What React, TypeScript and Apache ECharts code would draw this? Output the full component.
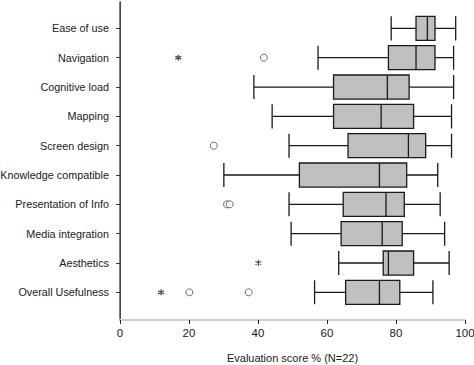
import React, { useEffect, useRef } from "react";
import * as echarts from "echarts";

const categories = [
  "Ease of use",
  "Navigation",
  "Cognitive load",
  "Mapping",
  "Screen design",
  "Knowledge compatible",
  "Presentation of Info",
  "Media integration",
  "Aesthetics",
  "Overall Usefulness",
];

// [low whisker, Q1, median, Q3, high whisker]
const boxValues = [
  [78.6, 85.8, 89.1, 91.3, 97.3],
  [57.4, 77.8, 85.8, 91.3, 96.7],
  [38.8, 61.9, 77.5, 83.8, 96.7],
  [44.1, 61.9, 75.7, 85.1, 96.1],
  [49.0, 66.1, 83.6, 88.6, 96.1],
  [30.1, 52.0, 75.2, 83.1, 92.1],
  [49.0, 64.7, 77.1, 82.4, 92.8],
  [49.6, 64.1, 76.0, 81.8, 94.1],
  [63.4, 76.3, 77.8, 85.1, 95.4],
  [56.4, 65.4, 75.2, 81.1, 90.7],
];

// outliers (circles): [value, category]
const circleOutliers: [number, string][] = [
  [41.7, "Navigation"],
  [27.2, "Screen design"],
  [31.0, "Presentation of Info"],
  [31.8, "Presentation of Info"],
  [20.1, "Overall Usefulness"],
  [37.3, "Overall Usefulness"],
];

// extreme values (asterisks): [value, category]
const starOutliers: [number, string][] = [
  [16.9, "Navigation"],
  [40.1, "Aesthetics"],
  [11.9, "Overall Usefulness"],
];

const xTicks = { min: 0, max: 100, interval: 20 };
const xTitle = "Evaluation score % (N=22)";

const FONT = "'Liberation Sans', Arial, sans-serif";
const ASTERISK =
  "path://M5,0L5,10M0.7,2.5L9.3,7.5M0.7,7.5L9.3,2.5";

export default function App() {
  const ref = useRef<HTMLDivElement>(null);
  useEffect(() => {
    document.body.style.margin = "0";
    if (!ref.current) return;
    const chart = echarts.init(ref.current, null, { renderer: "svg" });
    const textStyle = { fontFamily: FONT, fontSize: 11, color: "#1a1a1a" };
    chart.setOption({
      animation: false,
      textStyle: { fontFamily: FONT },
      grid: [
        { left: 120, right: 9, top: 13.7, height: 293.3, outerBoundsMode: "none", containLabel: false },
        { left: 120, right: 9, top: 2, bottom: 45, outerBoundsMode: "none", containLabel: false },
      ],
      xAxis: [
        {
          gridIndex: 0,
          type: "value",
          min: xTicks.min,
          max: xTicks.max,
          interval: xTicks.interval,
          axisLine: { show: false },
          axisTick: { show: false },
          axisLabel: { show: false },
          splitLine: { show: false },
        },
        {
          gridIndex: 1,
          type: "value",
          position: "bottom",
          min: xTicks.min,
          max: xTicks.max,
          interval: xTicks.interval,
          axisLine: { show: true, lineStyle: { color: "#222", width: 1 } },
          axisTick: { show: true, length: 4, lineStyle: { color: "#222" } },
          axisLabel: { ...textStyle, fontSize: 11.5, margin: 7 },
          splitLine: { show: false },
          name: xTitle,
          nameLocation: "middle",
          nameGap: 32,
          nameTextStyle: { ...textStyle },
        },
        {
          gridIndex: 1,
          type: "value",
          position: "top",
          min: xTicks.min,
          max: xTicks.max,
          axisLine: { show: true, lineStyle: { color: "#cfcfcf", width: 2 } },
          axisTick: { show: false },
          axisLabel: { show: false },
          splitLine: { show: false },
        },
      ],
      yAxis: [
        {
          gridIndex: 0,
          type: "category",
          data: categories,
          inverse: true,
          axisLine: { show: false },
          axisTick: {
            show: true,
            alignWithLabel: true,
            length: 4,
            lineStyle: { color: "#333" },
          },
          axisLabel: { ...textStyle, fontSize: 10.8, margin: 11 },
          splitLine: { show: false },
        },
        {
          gridIndex: 1,
          type: "value",
          position: "left",
          min: 0,
          max: 1,
          axisLine: { show: true, lineStyle: { color: "#222", width: 1 } },
          axisTick: { show: false },
          axisLabel: { show: false },
          splitLine: { show: false },
        },
        {
          gridIndex: 1,
          type: "value",
          position: "right",
          min: 0,
          max: 1,
          axisLine: { show: true, lineStyle: { color: "#555", width: 1.5 } },
          axisTick: { show: false },
          axisLabel: { show: false },
          splitLine: { show: false },
        },
      ],
      series: [
        {
          type: "boxplot",
          xAxisIndex: 0,
          yAxisIndex: 0,
          data: boxValues,
          boxWidth: ["82%", "82%"],
          itemStyle: {
            color: "#c0c0c0",
            borderColor: "#1a1a1a",
            borderWidth: 1.3,
          },
          emphasis: { disabled: true },
        },
        {
          type: "scatter",
          xAxisIndex: 0,
          yAxisIndex: 0,
          data: circleOutliers,
          symbol: "circle",
          symbolSize: 7,
          itemStyle: { color: "#fff", borderColor: "#333", borderWidth: 0.9 },
          emphasis: { disabled: true },
        },
        {
          type: "scatter",
          xAxisIndex: 0,
          yAxisIndex: 0,
          data: starOutliers,
          symbol: ASTERISK,
          symbolSize: 6,
          itemStyle: {
            color: "none",
            borderColor: "#222",
            borderWidth: 1.3,
          },
          emphasis: { disabled: true },
        },
      ],
    });
    return () => chart.dispose();
  }, []);
  return <div ref={ref} style={{ width: 474, height: 365 }} />;
}
